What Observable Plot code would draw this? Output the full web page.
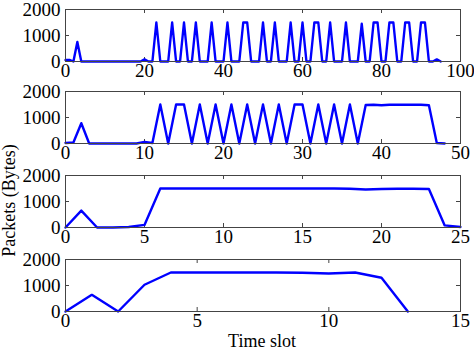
<!DOCTYPE html>
<html><head><meta charset="utf-8">
<script src="https://cdn.jsdelivr.net/npm/d3@7"></script>
<script src="https://cdn.jsdelivr.net/npm/@observablehq/plot@0.6"></script>
<style>
body{margin:0;background:#fff;overflow:hidden}
#wrap{position:relative;width:474px;height:351px;font-family:"Liberation Serif",serif;color:#000}
.panel{position:absolute;left:0}
#ylab{position:absolute;left:-91px;top:191px;width:200px;height:19px;line-height:19px;font-size:18px;text-align:center;transform:rotate(-90deg);white-space:nowrap}
#xlab{position:absolute;left:162px;top:332px;width:200px;height:19px;line-height:19px;font-size:18px;text-align:center;white-space:nowrap}
</style></head><body><div id="wrap"></div>
<script>
// Packets (Bytes) per time slot, one array per panel (index = time slot)
const panel1Packets = [60,60,0,750,0,0,0,0,0,0,0,0,0,0,0,0,0,0,0,0,80,0,0,1500,0,0,0,1500,0,0,1500,0,0,1500,0,0,0,1500,0,0,0,1500,0,0,0,1500,1500,0,0,0,1500,0,0,1500,0,0,0,1500,0,0,1500,0,0,1500,1500,0,0,1500,0,0,0,1500,0,0,0,1450,0,0,1500,1500,0,0,1500,1500,0,0,1500,1500,0,0,1500,1500,0,0,80,0];
const panel2Packets = [20,40,780,0,0,0,0,0,0,0,60,20,1500,0,1500,1500,0,1500,0,1500,0,1500,0,1500,0,1500,0,1500,0,1500,1500,0,1500,0,1500,0,1500,0,1480,1490,1470,1490,1490,1490,1490,1490,1470,20,0];
const panel3Packets = [0,650,0,0,20,100,1500,1500,1500,1500,1500,1500,1500,1500,1500,1500,1500,1500,1490,1460,1480,1490,1490,1480,80,20];
const panel4Packets = [0,640,0,1030,1500,1500,1500,1500,1500,1490,1460,1500,1300,0];
// axis ranges and tick labels
const panelXMax = [100, 50, 25, 15];
const panel1Ticks = [0,20,40,60,80,100];
const panel2Ticks = [0,10,20,30,40,50];
const panel3Ticks = [0,5,10,15,20,25];
const panel4Ticks = [0,5,10,15];
const yTicks = [0,1000,2000];
const yLabel = "Packets (Bytes)";
const xLabel = "Time slot";

const series = [panel1Packets, panel2Packets, panel3Packets, panel4Packets];
const xTickSets = [panel1Ticks, panel2Ticks, panel3Ticks, panel4Ticks];
const tops = [1, 83, 167, 251];

const W = 474, mL = 65, mR = 14, mT = 8, frameH = 52, mB = 24;
const frameW = W - mL - mR;
const wrap = document.getElementById("wrap");
const axisColor = "#444";
const fmt = d => String(d);

series.forEach((vals, i) => {
  const data = vals.map((v, k) => ({slot: k, bytes: v}));
  const xt = xTickSets[i];
  const plot = Plot.plot({
    width: W, height: mT + frameH + mB,
    marginLeft: mL, marginRight: mR, marginTop: mT, marginBottom: mB,
    style: {fontFamily: "'Liberation Serif', serif", fontSize: "19px", background: "transparent", overflow: "visible", color: "#000"},
    x: {domain: [0, panelXMax[i]]},
    y: {domain: [0, 2000]},
    marks: [
      Plot.ruleX(xt.slice(1, -1), {x: d => d, insetTop: frameH - 4, stroke: axisColor}),
      Plot.ruleX(xt.slice(1, -1), {x: d => d, insetBottom: frameH - 4, stroke: axisColor}),
      Plot.ruleY(yTicks.slice(1, -1), {y: d => d, insetRight: frameW - 4, stroke: axisColor}),
      Plot.ruleY(yTicks.slice(1, -1), {y: d => d, insetLeft: frameW - 4, stroke: axisColor}),
      Plot.line(data, {x: "slot", y: "bytes", stroke: "#0000ff", strokeWidth: 2.4}),
      Plot.frame({stroke: axisColor}),
      Plot.axisX(xt, {tickSize: 0, tickPadding: 2, label: null, fill: "#000", tickFormat: fmt}),
      Plot.axisY(yTicks, {tickSize: 0, tickPadding: 5, label: null, fill: "#000", tickFormat: fmt})
    ]
  });
  plot.classList.add("panel");
  plot.style.position = "absolute";
  plot.style.top = tops[i] + "px";
  plot.style.left = "0px";
  wrap.appendChild(plot);
});

const yl = document.createElement("div");
yl.id = "ylab"; yl.textContent = yLabel; wrap.appendChild(yl);
const xl = document.createElement("div");
xl.id = "xlab"; xl.textContent = xLabel; wrap.appendChild(xl);
</script>
</body></html>
